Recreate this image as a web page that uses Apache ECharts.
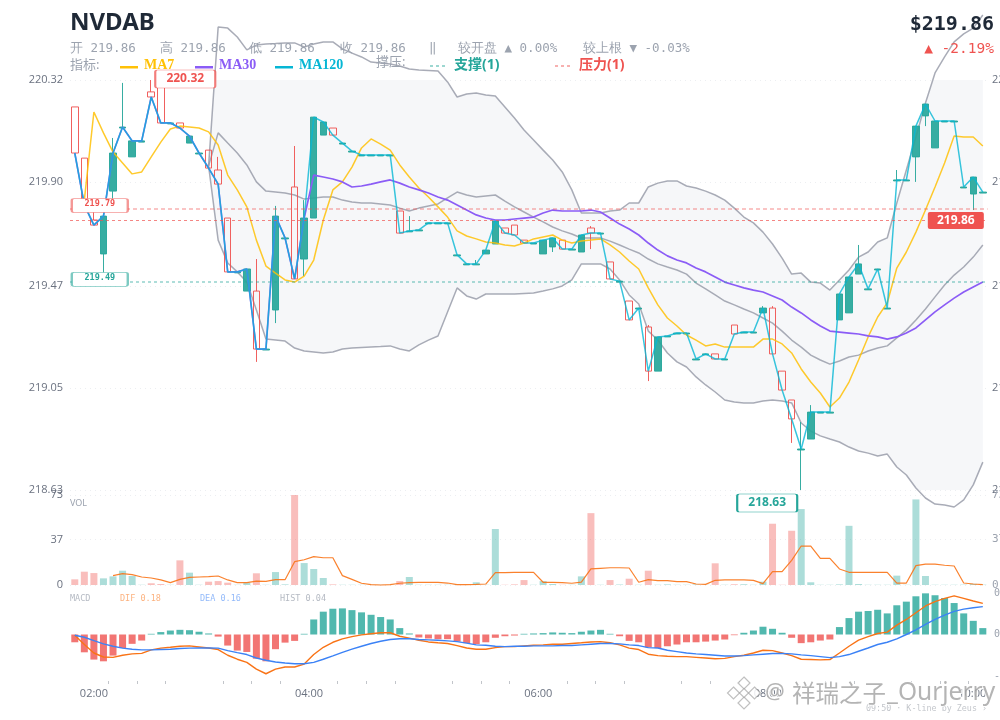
<!DOCTYPE html>
<html><head><meta charset="utf-8">
<style>html,body{margin:0;padding:0;background:#fff;overflow:hidden}#c{width:1000px;height:720px}</style>
<script src="https://cdn.jsdelivr.net/npm/echarts@6/dist/echarts.min.js"></script>
</head><body><div id="c"></div>
<script>
const categories = Array.from({length:96},(_,i)=>{const m=110+i*5;return String(Math.floor(m/60)).padStart(2,'0')+':'+String(m%60).padStart(2,'0');});
const opens = [220.209,219.998,219.743,219.603,219.862,220.122,220.003,220.064,220.271,220.299,220.139,220.143,220.060,220.015,220.031,219.949,219.751,219.525,219.450,219.450,219.207,219.372,219.665,219.879,219.582,219.751,220.093,220.122,220.056,220.023,220.007,220.007,220.007,220.007,219.780,219.694,219.698,219.727,219.727,219.727,219.595,219.558,219.558,219.603,219.644,219.710,219.722,219.660,219.644,219.603,219.632,219.660,219.619,219.611,219.710,219.685,219.570,219.487,219.409,219.376,219.302,219.120,219.261,219.273,219.273,219.166,219.187,219.191,219.166,219.310,219.277,219.277,219.360,219.380,219.120,219.001,218.795,218.840,218.947,218.947,219.331,219.360,219.520,219.455,219.537,219.376,219.904,219.904,220.003,220.172,220.040,220.147,220.147,219.875,219.850,219.854];
const closes = [220.019,219.805,219.722,219.759,220.019,220.126,220.069,220.069,220.250,220.143,220.143,220.122,220.089,220.019,219.957,219.891,219.529,219.529,219.541,219.211,219.211,219.759,219.669,219.500,219.751,220.167,220.147,220.093,220.060,220.027,220.011,220.011,220.011,220.011,219.689,219.698,219.702,219.731,219.731,219.731,219.599,219.562,219.562,219.619,219.739,219.689,219.681,219.648,219.648,219.660,219.669,219.623,219.623,219.681,219.689,219.689,219.500,219.491,219.331,219.380,219.120,219.261,219.265,219.277,219.277,219.170,219.191,219.170,219.170,219.273,219.281,219.281,219.380,219.191,219.042,218.923,218.799,218.951,218.951,218.951,219.438,219.508,219.562,219.459,219.541,219.380,219.908,219.908,220.130,220.221,220.151,220.151,220.151,219.879,219.920,219.858];
const highs = [220.209,219.998,219.776,219.759,220.081,220.308,220.069,220.069,220.320,220.299,220.143,220.143,220.089,220.019,220.031,220.003,219.751,219.529,219.541,219.582,219.211,219.801,219.669,220.048,219.825,220.167,220.147,220.122,220.060,220.027,220.011,220.011,220.011,220.011,219.780,219.759,219.702,219.731,219.731,219.731,219.599,219.562,219.578,219.619,219.739,219.710,219.722,219.660,219.648,219.660,219.669,219.660,219.623,219.681,219.718,219.689,219.570,219.491,219.409,219.380,219.310,219.261,219.265,219.277,219.277,219.170,219.191,219.191,219.170,219.310,219.281,219.281,219.388,219.388,219.120,219.001,218.910,218.980,218.951,218.951,219.438,219.508,219.640,219.459,219.541,219.380,219.949,219.908,220.130,220.221,220.151,220.151,220.151,219.879,219.920,219.858];
const lows = [220.019,219.805,219.722,219.524,219.825,220.122,220.003,220.064,220.250,220.143,220.139,220.122,220.060,220.015,219.957,219.891,219.529,219.525,219.450,219.158,219.207,219.318,219.665,219.500,219.512,219.751,220.093,220.093,220.056,220.023,220.007,220.007,220.007,220.007,219.689,219.694,219.698,219.727,219.727,219.727,219.595,219.558,219.558,219.603,219.644,219.689,219.681,219.648,219.644,219.603,219.611,219.623,219.619,219.611,219.623,219.685,219.500,219.487,219.331,219.376,219.079,219.120,219.261,219.273,219.273,219.166,219.187,219.170,219.166,219.273,219.277,219.277,219.360,219.191,219.042,218.824,218.630,218.840,218.947,218.947,219.331,219.360,219.520,219.455,219.537,219.376,219.904,219.904,219.900,220.130,220.040,220.147,220.147,219.875,219.784,219.854];
const ma7 = [null,219.825,220.188,220.102,220.023,219.978,219.933,219.941,220.003,220.064,220.118,220.130,220.126,220.122,220.106,220.052,219.928,219.867,219.797,219.660,219.553,219.524,219.496,219.487,219.512,219.578,219.743,219.867,219.900,219.961,220.040,220.077,220.056,220.031,219.970,219.920,219.875,219.838,219.797,219.755,219.698,219.677,219.665,219.652,219.648,219.640,219.636,219.648,219.665,219.673,219.681,219.660,219.648,219.656,219.660,219.665,219.640,219.611,219.574,219.541,219.463,219.393,219.339,219.306,219.269,219.248,219.224,219.232,219.219,219.219,219.219,219.219,219.252,219.252,219.232,219.195,219.129,219.075,219.030,218.972,219.009,219.075,219.166,219.261,219.343,219.401,219.545,219.611,219.693,219.784,219.879,219.978,220.089,220.085,220.085,220.048];
const ma30Tail = [219.928,219.920,219.912,219.900,219.879,219.883,219.891,219.900,219.908,219.895,219.879,219.867,219.854,219.838,219.825,219.805,219.784,219.764,219.751,219.743,219.743,219.747,219.751,219.755,219.772,219.784,219.780,219.780,219.780,219.784,219.776,219.751,219.726,219.706,219.681,219.648,219.619,219.595,219.578,219.566,219.545,219.529,219.508,219.487,219.475,219.463,219.454,219.446,219.430,219.413,219.384,219.360,219.331,219.306,219.285,219.281,219.277,219.273,219.265,219.261,219.252,219.261,219.277,219.298,219.331,219.364,219.393,219.421,219.446,219.467,219.487];
const ma30 = closes.slice(0,25).concat(ma30Tail);
const ma120 = closes.slice();
const bandUpper = [null,null,null,null,null,null,null,null,null,null,null,null,null,null,219.966,220.538,220.534,220.497,220.444,220.464,220.468,220.470,220.473,220.473,220.456,220.468,220.477,220.477,220.448,220.431,220.415,220.394,220.390,220.386,220.378,220.365,220.361,220.359,220.357,220.312,220.250,220.262,220.266,220.258,220.254,220.209,220.163,220.114,220.073,220.031,219.990,219.941,219.867,219.772,219.772,219.772,219.780,219.784,219.813,219.813,219.879,219.895,219.904,219.904,219.883,219.875,219.862,219.846,219.825,219.792,219.755,219.731,219.693,219.644,219.586,219.520,219.524,219.487,219.483,219.454,219.496,219.537,219.590,219.611,219.652,219.669,219.813,219.949,220.085,220.225,220.349,220.415,220.477,220.510,220.534,220.588];
const bandMid = [null,null,null,null,null,null,null,null,null,null,null,null,null,null,219.966,220.102,220.060,220.019,219.970,219.900,219.862,219.858,219.854,219.846,219.829,219.834,219.838,219.838,219.825,219.817,219.813,219.813,219.809,219.805,219.792,219.780,219.792,219.801,219.809,219.834,219.858,219.846,219.838,219.842,219.846,219.821,219.797,219.776,219.755,219.735,219.714,219.698,219.685,219.669,219.669,219.669,219.656,219.640,219.623,219.607,219.582,219.562,219.549,219.537,219.520,219.483,219.459,219.434,219.409,219.393,219.376,219.360,219.339,219.318,219.285,219.248,219.219,219.186,219.166,219.149,219.162,219.178,219.186,219.203,219.215,219.224,219.257,219.289,219.331,219.376,219.426,219.475,219.516,219.549,219.590,219.640];
const bandLower = [null,null,null,null,null,null,null,null,null,null,null,null,null,null,219.966,219.660,219.566,219.529,219.487,219.372,219.252,219.248,219.244,219.215,219.203,219.199,219.195,219.199,219.211,219.215,219.217,219.219,219.221,219.224,219.211,219.203,219.228,219.248,219.265,219.364,219.463,219.430,219.417,219.438,219.438,219.438,219.438,219.440,219.442,219.450,219.459,219.471,219.496,219.562,219.562,219.562,219.541,219.496,219.434,219.397,219.285,219.248,219.195,219.158,219.137,219.096,219.063,219.034,219.001,218.993,218.989,218.989,218.997,219.001,218.997,218.989,218.906,218.873,218.853,218.840,218.828,218.807,218.791,218.782,218.770,218.778,218.725,218.692,218.638,218.597,218.572,218.568,218.560,218.589,218.651,218.745];
const volumes = [4.6,10.8,9.7,5.4,7.0,11.6,7.3,0.2,1.4,0.8,0.2,20,10,0.2,2.7,3.2,1.9,0.2,1.9,9.5,0.2,10.5,0.5,73,17.8,13,5.7,0.5,0.2,0.2,0.2,0.2,0.2,0.2,3.2,6.5,0.2,0.2,0.2,0.2,0.3,0.2,2.2,0.2,45.4,0.2,0.5,4,0.2,3.2,0.8,0.2,0.2,7,58.3,0.2,4,0.4,5.1,0.2,11.6,0.2,0.5,0.2,0.2,0.5,0.2,17.6,0.2,0.6,0.6,0.2,2.7,49.7,0.2,44,61.6,2.2,0.2,0.2,0.5,48,0.8,0.2,0.2,0.2,7.6,0.2,69.4,7.3,0.2,0.2,0.2,0.3,1,0.3];
const volMa = [null,null,null,null,7.6,9.2,8.4,6.5,5.7,4.1,1.9,4.6,6.2,6.5,6.8,7.3,4.1,1.9,1.9,3.2,3.0,4.3,4.3,18.9,20.5,23,22.1,22.1,7.6,4.6,1.4,0.3,0,0.3,1.4,1.9,2.2,2.2,2.2,1.6,0.3,0.3,0.5,0.8,10,10,10.3,10.3,10.3,2.2,2.2,1.9,1.4,2.4,13,13.5,14,14,13.8,2.2,4.3,3.5,3.5,2.7,2.7,0.8,0.5,3.8,4.1,4.1,4.1,3.8,1.1,10.8,10.8,20,31.6,31.6,21.6,21.6,13,10.3,10.3,10.3,10.3,10.3,1.6,1.6,15.7,17,17,16,15.4,1.6,0.8,0.3];
const macdHist = [-.045,-.103,-.145,-.155,-.122,-.078,-.054,-.035,.004,.014,.023,.027,.025,.016,.006,-.012,-.064,-.093,-.101,-.140,-.155,-.085,-.047,-.037,.004,.087,.132,.149,.151,.141,.128,.114,.101,.087,.037,.006,-.017,-.023,-.027,-.027,-.041,-.050,-.056,-.045,-.019,-.010,-.006,.004,.006,.008,.012,.010,.008,.016,.023,.027,.004,-.010,-.037,-.045,-.074,-.078,-.068,-.058,-.045,-.045,-.041,-.035,-.029,-.004,.010,.023,.045,.033,.010,-.019,-.050,-.045,-.035,-.029,.043,.095,.132,.136,.143,.122,.169,.190,.221,.238,.227,.211,.182,.122,.079,.037];
const macdDif = [-.004,-.058,-.107,-.130,-.132,-.120,-.112,-.109,-.089,-.079,-.074,-.068,-.066,-.072,-.078,-.087,-.120,-.143,-.161,-.200,-.227,-.200,-.188,-.188,-.171,-.116,-.074,-.045,-.025,-.012,-.002,.004,.010,.010,-.010,-.021,-.033,-.043,-.048,-.052,-.064,-.078,-.085,-.085,-.076,-.070,-.070,-.066,-.062,-.060,-.056,-.056,-.052,-.048,-.043,-.041,-.048,-.060,-.079,-.087,-.114,-.122,-.126,-.128,-.128,-.132,-.136,-.140,-.138,-.128,-.120,-.107,-.091,-.093,-.107,-.122,-.143,-.145,-.147,-.145,-.107,-.068,-.033,-.012,.006,.014,.054,.087,.126,.165,.190,.209,.223,.209,.194,.180];
const macdDea = [-.004,-.016,-.035,-.054,-.068,-.079,-.085,-.089,-.089,-.087,-.085,-.081,-.079,-.078,-.078,-.079,-.093,-.105,-.116,-.136,-.149,-.159,-.165,-.169,-.169,-.161,-.143,-.124,-.103,-.085,-.068,-.052,-.039,-.029,-.025,-.025,-.029,-.031,-.033,-.037,-.041,-.050,-.060,-.062,-.068,-.070,-.068,-.068,-.066,-.066,-.066,-.064,-.064,-.060,-.056,-.052,-.052,-.054,-.060,-.064,-.076,-.078,-.091,-.099,-.107,-.112,-.116,-.120,-.124,-.124,-.122,-.118,-.114,-.110,-.109,-.112,-.118,-.122,-.128,-.134,-.128,-.116,-.097,-.078,-.058,-.045,-.025,0,.027,.058,.087,.112,.134,.147,.155,.161];
const priceTicks = [218.63,219.05,219.47,219.90,220.32];
const volTicks = [0,37,73];
const macdTicks = [-0.24,0,0.24];
const timeLabels = ['02:00','04:00','06:00','08:00','10:00'];
const timeLabelSlots = [2.5,25,49,73,94.4];
const RED='#ef5350', GREEN='#26a69a', GRAY='#9ca3af', MONO='"DejaVu Sans Mono",monospace', SANS='"Open Sans","Noto Sans CJK SC",sans-serif', CJK='"Noto Sans","Noto Sans CJK SC",sans-serif';
const candleRows = opens.map((o,i)=>[o,closes[i],lows[i],highs[i]]);
const volRows = volumes.map((v,i)=>({value:v,itemStyle:{color:closes[i]>=opens[i]?GREEN:RED}}));
const histRows = macdHist.map(v=>({value:v,itemStyle:{color:v>=0?GREEN:RED}}));
const tickSlots=[];for(let b=1;b<96;b+=3){if(b%12!==1)tickSlots.push(b);}
const grid = (t,h)=>({left:70,right:12.4,top:t,height:h,outerBoundsMode:'none'});
const ySplit = {show:true,lineStyle:{color:'#eceef1',type:[1,4],width:1}};
const yLabel = {color:'#6b7280',fontFamily:SANS,fontSize:11,margin:7,hideOverlap:false};
function yAxis(gridIndex,min,max,ticks,pos,fmt,label){
  return {type:'value',gridIndex,min,max,position:pos,scale:true,axisLine:{show:false},
    axisTick:{show:false,customValues:ticks},splitLine:pos==='left'&&gridIndex<2?ySplit:{show:false},
    axisLabel:Object.assign({},yLabel,label||{},{customValues:ticks,formatter:fmt,showMinLabel:true,showMaxLabel:true})};
}
function xCat(gridIndex){return {type:'category',gridIndex,data:categories,boundaryGap:true,axisLine:{show:false},axisTick:{show:false},axisLabel:{show:false},splitLine:{show:false}};}
const lineSer=(name,data,color,width,extra)=>Object.assign({type:'line',name,data,symbol:'none',showSymbol:false,smooth:false,animation:false,silent:true,clip:false,connectNulls:false,lineStyle:{color,width}},extra||{});
const boxPath=(w,h,r)=>`path://M${r} 0H${w-r}A${r} ${r} 0 0 1 ${w} ${r}V${h-r}A${r} ${r} 0 0 1 ${w-r} ${h}H${r}A${r} ${r} 0 0 1 0 ${h-r}V${r}A${r} ${r} 0 0 1 ${r} 0Z`;
function boxMark(coord,text,offset,size,opts){
  return {coord,value:text,symbol:boxPath(size[0],size[1],2),symbolKeepAspect:false,symbolSize:size,symbolOffset:offset,
    itemStyle:{color:opts.fill,borderColor:opts.border,borderWidth:opts.bw===undefined?1.2:opts.bw,opacity:1},
    label:{show:true,position:'inside',offset:opts.textOffset||[0,0],formatter:text,color:opts.color,fontSize:opts.size,fontWeight:'bold',fontFamily:opts.font}};
}
const T=(x,y,text,fill,font,extra)=>({type:'text',x,y,z:50,silent:true,style:Object.assign({text,fill,font,textVerticalAlign:'middle',textAlign:'left'},extra||{})});
const R=(x,y,w,h,fill)=>({type:'rect',z:50,silent:true,shape:{x,y,width:w,height:h},style:{fill}});
const D=(x1,x2,y,stroke)=>({type:'line',z:50,silent:true,shape:{x1,y1:y,x2,y2:y},style:{stroke,lineWidth:1.5,lineDash:[3,3]}});
const sub=`12.5px ${MONO}`;
const wmColor='rgba(130,130,130,0.6)';
const wmHalo={stroke:'rgba(255,255,255,0.8)',lineWidth:2};
const diamond=(cx,cy,r)=>({type:'polygon',z:60,silent:true,shape:{points:[[cx,cy-r],[cx+r,cy],[cx,cy+r],[cx-r,cy]]},style:{fill:'rgba(255,255,255,0.85)',stroke:'rgba(150,150,150,0.6)',lineWidth:1.2}});
const graphics=[
 T(70,23,'NVDAB','#1f2937',`bold 24px "Noto Sans",sans-serif`),
 T(994,25,'$219.86','#1f2937',`bold 20px ${MONO}`,{textAlign:'right'}),
 T(994,49,'▲ -2.19%',RED,`14.5px ${MONO}`,{textAlign:'right'}),
 T(70,49,'开 219.86',GRAY,sub),T(160,49,'高 219.86',GRAY,sub),T(249,49,'低 219.86',GRAY,sub),T(340,49,'收 219.86',GRAY,sub),
 T(429,49,'‖',GRAY,sub),T(458,49,'较开盘 ▲ 0.00%',GRAY,sub),T(583,49,'较上根 ▼ -0.03%',GRAY,sub),
 T(70,65,'指标:',GRAY,`13px ${CJK}`),
 R(120,66,18,2.5,'#ffc107'),T(144,65,'MA7','#ffc107','bold 14px "Liberation Serif",serif'),
 R(195,66,18,2.5,'#8b5cf6'),T(219,65,'MA30','#8b5cf6','bold 14px "Liberation Serif",serif'),
 R(275,66,18,2.5,'#06b6d4'),T(299,65,'MA120','#06b6d4','bold 14px "Liberation Serif",serif'),
 T(376,62,'撑压:',GRAY,`13px ${CJK}`),
 D(430,446,66,'rgba(38,166,154,0.6)'),T(454,65,'支撑(1)',GREEN,`bold 14px ${CJK}`),
 D(555,571,66,'rgba(239,83,80,0.6)'),T(579,65,'压力(1)',RED,`bold 14px ${CJK}`),
 T(70,503.5,'VOL',GRAY,`9px ${CJK}`),
 T(70,599,'MACD','rgba(156,163,175,0.75)',`8.5px ${MONO}`),
 T(120,599,'DIF 0.18','rgba(249,115,22,0.55)',`8.5px ${MONO}`),
 T(200,599,'DEA 0.16','rgba(59,130,246,0.55)',`8.5px ${MONO}`),
 T(280,599,'HIST 0.04','rgba(156,163,175,0.75)',`8.5px ${MONO}`),
 diamond(744,683,6),diamond(733.5,693,6),diamond(754.5,693,6),diamond(744,703,6),diamond(744,693,4.5),
 Object.assign(T(765,693,'@',wmColor,`22px "Noto Sans",sans-serif`,wmHalo),{z:60}),
 Object.assign(T(792,693,'祥瑞之子',wmColor,`23.5px "Noto Sans CJK SC",sans-serif`,wmHalo),{z:60}),
 Object.assign(T(887,693,'_Ourjerry',wmColor,`24.5px "Noto Sans",sans-serif`,wmHalo),{z:60}),
 T(866,709,'09:50 · K-line by Zeus ›','#c4c7cc',`8.4px ${MONO}`)
];
const option={animation:false,backgroundColor:'#fff',
 grid:[grid(80,410),grid(495,90),grid(593,83)],
 xAxis:[xCat(0),xCat(1),xCat(2),
  {type:'value',gridIndex:2,min:0,max:96,position:'bottom',offset:5,axisLine:{show:false,onZero:false},splitLine:{show:false},
   axisTick:{show:true,length:3,customValues:tickSlots,lineStyle:{color:'#c2c5ca',width:1}},
   axisLabel:{color:'#6b7280',fontFamily:SANS,fontSize:11,margin:7,customValues:timeLabelSlots,formatter:v=>timeLabels[timeLabelSlots.indexOf(v)]||'',showMinLabel:true,showMaxLabel:true}}],
 yAxis:[
  yAxis(0,218.63,220.32,priceTicks,'left',v=>v.toFixed(2)),
  yAxis(0,218.63,220.32,priceTicks,'right',v=>v.toFixed(2),{margin:4.4}),
  yAxis(1,0,73,volTicks,'left',v=>String(v)),
  yAxis(1,0,73,volTicks,'right',v=>String(v),{margin:4.4,fontFamily:MONO,color:GRAY}),
  yAxis(2,-0.24,0.24,macdTicks,'right',v=>v.toFixed(2),{margin:6.4,fontFamily:MONO,color:GRAY,fontSize:10})
 ],
 series:[
  lineSer('bandBase',bandLower,'#000',0,{stack:'band',clip:true,lineStyle:{opacity:0,width:0},z:1}),
  lineSer('bandFill',bandUpper.map((u,i)=>u==null?null:u-bandLower[i]),'#000',0,{stack:'band',clip:true,lineStyle:{opacity:0,width:0},areaStyle:{color:'#f6f7f9',opacity:1},z:1}),
  lineSer('bandUpper',bandUpper,'rgba(148,151,165,0.8)',1.5,{z:2}),
  lineSer('bandMid',bandMid,'rgba(148,151,165,0.8)',1.5,{z:2}),
  lineSer('bandLower',bandLower,'rgba(148,151,165,0.8)',1.5,{z:2}),
  {type:'candlestick',name:'K',data:candleRows,barWidth:7,silent:true,animation:false,clip:false,z:3,
   itemStyle:{color:GREEN,color0:'rgba(255,255,255,0)',borderColor:GREEN,borderColor0:RED,borderWidth:1,opacity:0.92},
   markLine:{silent:true,symbol:'none',animation:false,label:{show:false},data:[
     {yAxis:219.79,lineStyle:{color:'rgba(239,83,80,0.45)',type:[4,3],width:1.5}},
     {yAxis:219.741,lineStyle:{color:'rgba(239,83,80,0.7)',type:[3,3],width:1}},
     {yAxis:219.49,lineStyle:{color:'rgba(38,166,154,0.5)',type:[3,3],width:1.5}}]},
   markPoint:{silent:true,animation:false,data:[
     boxMark([0,219.79],'219.79',[25,-3],[56,14],{fill:'#fff',border:'rgba(239,83,80,0.6)',color:RED,size:8.5,font:MONO,textOffset:[0,-2]}),
     boxMark([0,219.49],'219.49',[25,-2],[56,14],{fill:'#fff',border:'rgba(38,166,154,0.6)',color:GREEN,size:8.5,font:MONO,textOffset:[0,-2]})]}},
  lineSer('MA7',ma7,'#ffc107',1.5,{z:4,lineStyle:{color:'#ffc107',width:1.5,opacity:0.85}}),
  lineSer('MA30',ma30,'#8b5cf6',1.7,{z:4}),
  lineSer('MA120',ma120,'#06b6d4',1.5,{z:4,lineStyle:{color:'#06b6d4',width:1.5,opacity:0.8},
   markPoint:{silent:true,animation:false,data:[
     boxMark([8,220.32],'220.32',[34,-1],[60,18],{fill:'#fff',border:'rgba(239,83,80,0.75)',color:RED,size:12,font:SANS}),
     boxMark([76,218.63],'218.63',[-34,13],[60,18],{fill:'#fff',border:GREEN,color:GREEN,size:12,font:SANS}),
     boxMark([95,219.741],'219.86',[-27,0],[56,17],{fill:RED,border:RED,bw:0,color:'#fff',size:12,font:SANS})]}}),
  {type:'bar',name:'VOL',xAxisIndex:1,yAxisIndex:2,data:volRows,barWidth:7,silent:true,animation:false,itemStyle:{opacity:0.38},z:2},
  lineSer('VOLMA',volMa,'#f97316',1.2,{xAxisIndex:1,yAxisIndex:2,z:3,lineStyle:{color:'#f97316',width:1.2,opacity:0.9}}),
  {type:'bar',name:'HIST',xAxisIndex:2,yAxisIndex:4,data:histRows,barWidth:7,silent:true,animation:false,itemStyle:{opacity:0.8},z:2},
  lineSer('DIF',macdDif,'#f97316',1.4,{xAxisIndex:2,yAxisIndex:4,z:3}),
  lineSer('DEA',macdDea,'#3b82f6',1.4,{xAxisIndex:2,yAxisIndex:4,z:3})
 ],
 graphic:{elements:graphics}
};
const chart=echarts.init(document.getElementById('c'),null,{renderer:'canvas',width:1000,height:720});
chart.setOption(option);
</script></body></html>
